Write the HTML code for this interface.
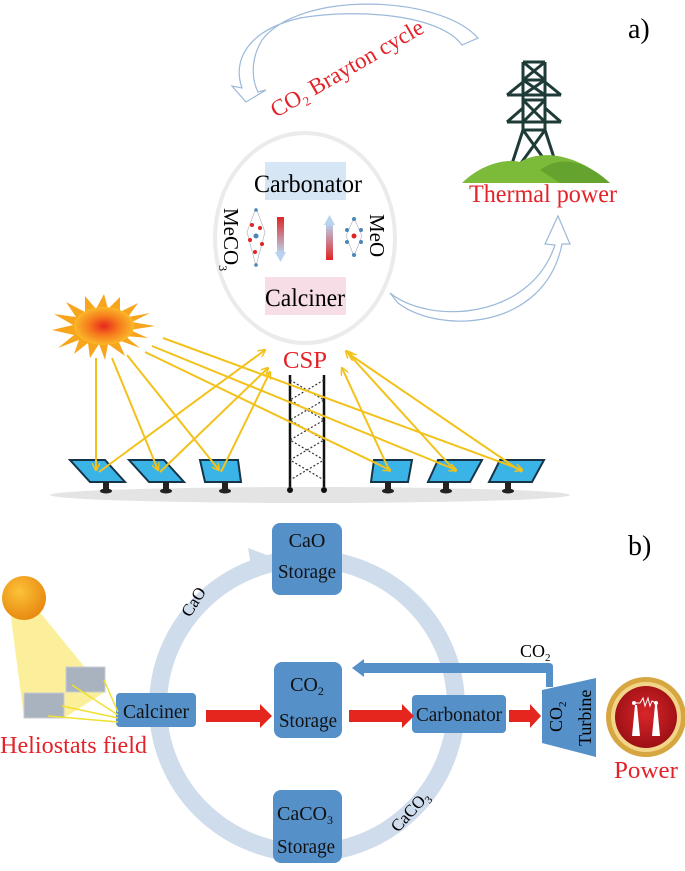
<!DOCTYPE html>
<html><head><meta charset="utf-8"><style>
html,body{margin:0;padding:0;background:#fff;}
svg{display:block;font-family:"Liberation Serif",serif;}
</style></head><body>
<svg width="685" height="871" viewBox="0 0 685 871" xmlns="http://www.w3.org/2000/svg">
<defs>
<radialGradient id="sun" cx="50%" cy="50%" r="50%"><stop offset="0" stop-color="#e8261f"/><stop offset="0.5" stop-color="#f57a1c"/><stop offset="1" stop-color="#fbb829"/></radialGradient>
<radialGradient id="sunb" cx="40%" cy="35%" r="65%"><stop offset="0" stop-color="#fcc23a"/><stop offset="1" stop-color="#e88a10"/></radialGradient>
<linearGradient id="dn" x1="0" y1="0" x2="0" y2="1"><stop offset="0" stop-color="#e02424"/><stop offset="1" stop-color="#b8d3ee"/></linearGradient>
<linearGradient id="up" x1="0" y1="1" x2="0" y2="0"><stop offset="0" stop-color="#e02424"/><stop offset="1" stop-color="#b8d3ee"/></linearGradient>
<radialGradient id="pw" cx="50%" cy="45%" r="55%"><stop offset="0" stop-color="#d8262a"/><stop offset="1" stop-color="#9c1014"/></radialGradient>
<marker id="ya" markerWidth="8" markerHeight="8" refX="7" refY="4" orient="auto" markerUnits="userSpaceOnUse"><path d="M0,0 L8,4 L0,8" fill="none" stroke="#f2c21b" stroke-width="1.5"/></marker>
</defs>

<!-- ===== Part a ===== -->
<text x="628" y="38" font-size="28">a)</text>

<path d="M478,38 C440,-5 300,-10 262,40 C250,60 252,80 258,92 L266,90 L246,102 L232,86 L242,88 C232,60 248,30 300,18 C360,8 440,15 462,45 Z" fill="#fff" stroke="#9bb9d9" stroke-width="1.2"/>
<path d="M390,293 C430,325 530,320 555,245 L545,244 L558,216 L570,244 L562,244 C545,330 440,335 398,303 Z" fill="#fff" stroke="#9bb9d9" stroke-width="1.2"/>

<text x="0" y="0" font-size="23" fill="#e3232a" transform="translate(276,118) rotate(-30)">CO<tspan font-size="13" dy="5">2</tspan><tspan dy="-5"> Brayton cycle</tspan></text>

<g stroke="#1f3b38" stroke-width="3" fill="none">
<path d="M523,62 L523,130 L510,170 M545,62 L545,130 L558,170"/>
<path d="M507,95 L561,95 M507,122 L561,122 M523,62 L545,62"/>
<path d="M523,62 L545,80 M545,62 L523,80 M523,80 L545,95 M545,80 L523,95 M523,100 L545,122 M545,100 L523,122 M523,130 L552,170 M545,130 L516,170"/>
<path d="M523,80 L545,80 M523,100 L545,100 M523,130 L545,130 M507,95 L523,82 M561,95 L545,82 M507,122 L523,108 M561,122 L545,108"/>
</g>
<path d="M462,183 C480,165 505,158 520,162 C540,150 575,152 610,183 Z" fill="#7cba3a"/>
<path d="M540,170 C560,155 585,160 610,183 L560,183 Z" fill="#64a32e"/>
<text x="469" y="202" font-size="25" fill="#e3232a" textLength="148" lengthAdjust="spacingAndGlyphs">Thermal power</text>

<ellipse cx="305" cy="238" rx="90" ry="105" fill="#fff" stroke="#ebebeb" stroke-width="4"/>
<rect x="265" y="162" width="81" height="38" fill="#d6e6f4"/>
<rect x="265" y="277" width="81" height="38" fill="#f7dde6"/>
<text x="254" y="192" font-size="25" textLength="108" lengthAdjust="spacingAndGlyphs">Carbonator</text>
<text x="265" y="306" font-size="25" textLength="80" lengthAdjust="spacingAndGlyphs">Calciner</text>
<text x="0" y="0" font-size="21" transform="translate(224,208) rotate(90)">MeCO<tspan font-size="12" dy="5">3</tspan></text>
<text x="0" y="0" font-size="21" transform="translate(370,214) rotate(90)">MeO</text>
<rect x="277" y="217" width="7" height="36" fill="url(#dn)"/>
<path d="M275,252 L286,252 L280.5,262 Z" fill="#b8d3ee"/>
<rect x="326" y="224" width="7" height="36" fill="url(#up)"/>
<path d="M324,225 L335,225 L329.5,215 Z" fill="#b8d3ee"/>
<g stroke="#aab" stroke-width="0.6" fill="none"><path d="M256,208 L247,232 L256,266 L265,232 Z M354,218 L346,236 L354,256 L362,236 Z"/></g>
<g fill="#e02424"><circle cx="252" cy="225" r="2"/><circle cx="260" cy="228" r="2"/><circle cx="250" cy="240" r="2"/><circle cx="262" cy="244" r="2"/><circle cx="255" cy="252" r="2"/><circle cx="354" cy="236" r="2.5"/></g>
<g fill="#4a86b8"><circle cx="256" cy="210" r="1.8"/><circle cx="256" cy="236" r="2.5"/><circle cx="256" cy="265" r="1.8"/><circle cx="354" cy="219" r="2"/><circle cx="347" cy="230" r="2"/><circle cx="361" cy="230" r="2"/><circle cx="347" cy="242" r="2"/><circle cx="361" cy="242" r="2"/><circle cx="354" cy="255" r="2"/></g>

<polygon fill="#f8a51e" points="155,326 130,330 148,338 125,336 140,348 118,340 125,356 108,344 105,360 99,344 90,358 88,343 74,354 79,340 58,348 74,335 52,330 73,325 54,314 76,317 66,302 85,312 85,296 96,309 104,294 108,309 120,297 120,312 138,303 128,317 150,313 132,322"/>
<ellipse cx="104" cy="326" rx="30" ry="19" fill="url(#sun)"/>

<text x="283" y="368" font-size="24" fill="#e3232a" textLength="44" lengthAdjust="spacingAndGlyphs">CSP</text>

<g stroke="#111" stroke-width="2.5"><line x1="290" y1="375" x2="290" y2="490"/><line x1="324" y1="375" x2="324" y2="490"/></g>
<path d="M290,380 L324,400 L290,420 L324,440 L290,460 L324,480 M324,380 L290,400 L324,420 L290,440 L324,460 L290,480" stroke="#333" stroke-width="1.2" stroke-dasharray="2,2" fill="none"/>

<ellipse cx="310" cy="495" rx="260" ry="8" fill="#e4e4e4"/>
<circle cx="290" cy="490" r="3" fill="#111"/><circle cx="324" cy="490" r="3" fill="#111"/>

<g fill="#3ab4e6" stroke="#163347" stroke-width="2">
<polygon points="70,460 105,460 125,482 90,482"/>
<polygon points="129,460 164,460 184,482 149,482"/>
<polygon points="200,460 238,460 241,482 205,482"/>
<polygon points="374,460 412,460 408,482 371,482"/>
<polygon points="438,460 482,460 470,482 428,482"/>
<polygon points="500,460 544,460 532,482 489,482"/>
</g>
<g fill="#222">
<rect x="103" y="482" width="6" height="8"/><rect x="163" y="482" width="6" height="8"/><rect x="222" y="482" width="6" height="8"/><rect x="385" y="482" width="6" height="8"/><rect x="443" y="482" width="6" height="8"/><rect x="505" y="482" width="6" height="8"/>
<ellipse cx="106" cy="491" rx="6" ry="2.5"/><ellipse cx="166" cy="491" rx="6" ry="2.5"/><ellipse cx="225" cy="491" rx="6" ry="2.5"/><ellipse cx="388" cy="491" rx="6" ry="2.5"/><ellipse cx="446" cy="491" rx="6" ry="2.5"/><ellipse cx="508" cy="491" rx="6" ry="2.5"/>
</g>

<g stroke="#f2c21b" stroke-width="2" fill="none" marker-end="url(#ya)">
<line x1="96" y1="358" x2="96" y2="470"/>
<line x1="112" y1="358" x2="158" y2="470"/>
<line x1="127" y1="355" x2="219" y2="470"/>
<line x1="145" y1="352" x2="390" y2="470"/>
<line x1="152" y1="346" x2="456" y2="470"/>
<line x1="163" y1="338" x2="522" y2="470"/>
<line x1="99" y1="472" x2="265" y2="350"/>
<line x1="160" y1="472" x2="268" y2="368"/>
<line x1="221" y1="472" x2="270" y2="372"/>
<line x1="390" y1="472" x2="342" y2="368"/>
<line x1="456" y1="472" x2="346" y2="351"/>
<line x1="522" y1="472" x2="349" y2="354"/>
</g>

<!-- ===== Part b ===== -->
<text x="628" y="555" font-size="28">b)</text>

<ellipse cx="307" cy="706" rx="149" ry="147" fill="none" stroke="#cfdcec" stroke-width="18"/>
<path d="M248,548 L272,557 L252,572 Z" fill="#cfdcec"/>

<text x="0" y="0" font-size="17" transform="translate(190,618) rotate(-58)">CaO</text>
<text x="0" y="0" font-size="17" transform="translate(398,833) rotate(-48)">CaCO<tspan font-size="11" dy="4">3</tspan></text>

<g fill="#5590c8">
<rect x="272" y="523" width="70" height="72" rx="8"/>
<rect x="274" y="662" width="68" height="76" rx="8"/>
<rect x="273" y="790" width="69" height="73" rx="8"/>
<rect x="116" y="693" width="80" height="34" rx="4"/>
<rect x="412" y="695" width="94" height="38" rx="4"/>
<polygon points="542,690 596,678 596,757 542,743"/>
</g>
<g font-size="20" fill="#111" text-anchor="middle">
<text x="307" y="547">CaO</text>
<text x="307" y="578" textLength="58" lengthAdjust="spacingAndGlyphs">Storage</text>
<text x="307" y="691">CO<tspan font-size="12" dy="4">2</tspan></text>
<text x="308" y="727" textLength="58" lengthAdjust="spacingAndGlyphs">Storage</text>
<text x="305" y="820">CaCO<tspan font-size="12" dy="4">3</tspan></text>
<text x="306" y="853" textLength="58" lengthAdjust="spacingAndGlyphs">Storage</text>
<text x="156" y="718" textLength="66" lengthAdjust="spacingAndGlyphs">Calciner</text>
<text x="459" y="721" textLength="86" lengthAdjust="spacingAndGlyphs">Carbonator</text>
</g>
<text x="0" y="0" font-size="18" transform="translate(562,732) rotate(-90)">CO<tspan font-size="11" dy="4">2</tspan></text>
<text x="0" y="0" font-size="18" transform="translate(591,746) rotate(-90)">Turbine</text>

<path d="M546,687 L546,673 L362,673 L362,663 L549,663 Q553,663 553,667 L553,687 Z" fill="#5590c8"/>
<path d="M364,659 L352,668 L364,677 Z" fill="#5590c8"/>
<text x="520" y="657" font-size="18">CO<tspan font-size="11" dy="4">2</tspan></text>

<g fill="#e5261f">
<polygon points="206,710 260,710 260,704 272,716 260,728 260,722 206,722"/>
<polygon points="349,710 402,710 402,704 414,716 402,728 402,722 349,722"/>
<polygon points="509,710 530,710 530,704 541,716 530,728 530,722 509,722"/>
</g>

<circle cx="646" cy="717" r="40" fill="#d6a640"/>
<circle cx="646" cy="717" r="35" fill="#f3d58a"/>
<circle cx="646" cy="717" r="31" fill="url(#pw)"/>
<path d="M632,736 L635,705 L637,705 L640,736 Z M652,736 L655,705 L657,705 L660,736 Z" fill="#fff"/>
<path d="M634,703 L640,703 L643,698 L645,706 L648,698 L650,706 L652,701 L656,703" stroke="#fff" stroke-width="1" fill="none"/>
<circle cx="634" cy="703" r="2" fill="#fff"/><circle cx="656" cy="703" r="2" fill="#fff"/>
<text x="614" y="778" font-size="24" fill="#e3232a" textLength="64" lengthAdjust="spacingAndGlyphs">Power</text>

<polygon points="10,610 38,610 105,692 64,718 24,718" fill="#faec8a" opacity="0.85"/>
<circle cx="24" cy="598" r="22" fill="url(#sunb)"/>
<rect x="66" y="667" width="39" height="25" fill="#a9b3c0" stroke="#c8cbcf"/>
<rect x="24" y="693" width="40" height="25" fill="#a9b3c0" stroke="#c8cbcf"/>
<g stroke="#f0e030" stroke-width="1.5">
<line x1="104" y1="680" x2="118" y2="712"/><line x1="72" y1="685" x2="118" y2="715"/>
<line x1="62" y1="706" x2="118" y2="718"/><line x1="48" y1="716" x2="118" y2="722"/>
</g>
<text x="0" y="753" font-size="24" fill="#e3232a" textLength="147" lengthAdjust="spacingAndGlyphs">Heliostats field</text>
</svg>
</body></html>
